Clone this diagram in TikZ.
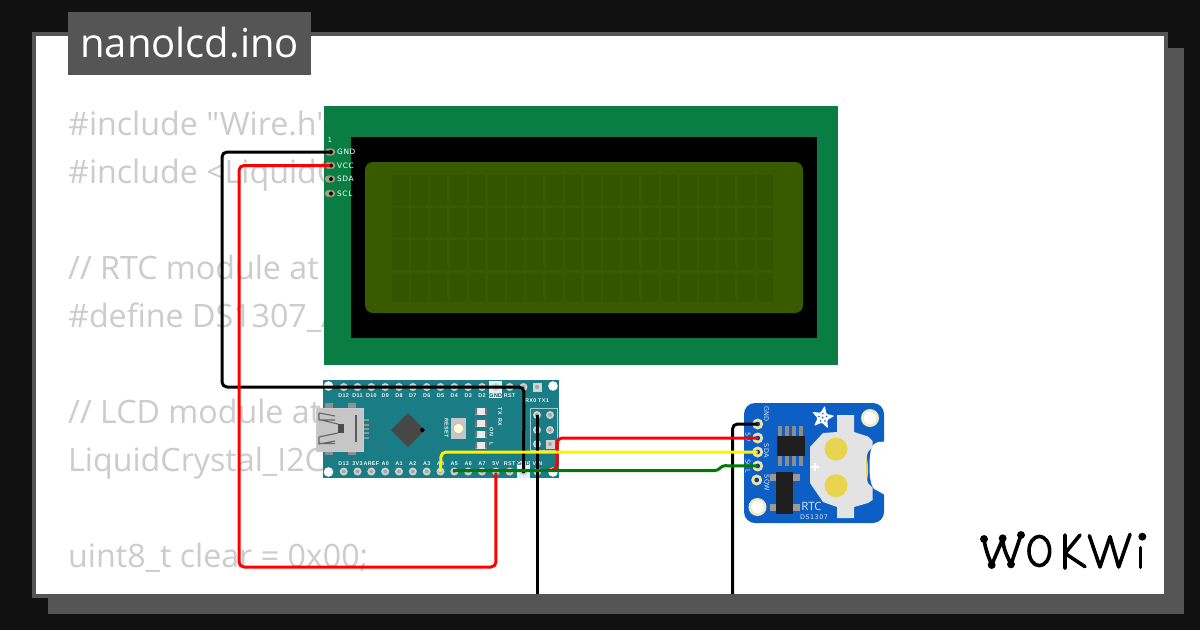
\documentclass[tikz,border=0pt]{standalone}
\usepackage{fontspec}
\usetikzlibrary{shapes.geometric}
\setmainfont{Open Sans}
\newfontfamily\codefont{Open Sans}
\newfontfamily\labelfont[LetterSpace=8]{DejaVu Sans}
\newfontfamily\pinfont[LetterSpace=6]{Liberation Sans Bold}
\definecolor{pagebg}{HTML}{111111}
\definecolor{framegray}{HTML}{555555}
\definecolor{codegray}{HTML}{CCCCCC}
\definecolor{lcdgreen}{HTML}{0A7D45}
\definecolor{lcdscreen}{HTML}{3A5A00}
\definecolor{lcdchar}{HTML}{355400}
\definecolor{padgold}{HTML}{A79F78}
\definecolor{nanoteal}{HTML}{1A7C85}
\definecolor{pinlight}{HTML}{D0D4D0}
\definecolor{pindark}{HTML}{A3A8A6}
\definecolor{usbgray}{HTML}{C6C6C6}
\definecolor{usbdark}{HTML}{8F9090}
\definecolor{rtcblue}{HTML}{0D5FC6}
\definecolor{ringcream}{HTML}{EFE8C4}
\definecolor{holder}{HTML}{E3E3E3}
\definecolor{padyellow}{HTML}{E8D44F}
\definecolor{wirered}{HTML}{FF0000}
\definecolor{wireyellow}{HTML}{FFF200}
\definecolor{wiregreen}{HTML}{007A00}
\tikzset{
  codeline/.style={anchor=base west,inner sep=0pt,text=codegray,font=\codefont\fontsize{32.2}{33}\selectfont},
  wire/.style={line width=3pt,rounded corners=5pt,line join=round},
  lcdlabel/.style={inner sep=0pt,anchor=west,text=white,font=\labelfont\fontsize{7.4}{7.5}\selectfont},
  nanolabel/.style={inner sep=0pt,text=white!92!nanoteal,font=\pinfont\fontsize{5.4}{5.5}\selectfont},
  rtclabel/.style={inner sep=0pt,rotate=-90,text=white!85!rtcblue,font=\labelfont\fontsize{6.5}{6.5}\selectfont},
  logo/.style={line width=3.6pt,line cap=round,line join=round,black},
  logonode/.style={line width=2.4pt,fill=white,black}
}
\begin{document}
\begin{tikzpicture}[x=1pt,y=-1pt]
\useasboundingbox (0,0) rectangle (1200,630);
% page and frame
\fill[pagebg] (0,0) rectangle (1200,630);
\fill[framegray] (48,48) rectangle (1184,614);
\fill[framegray] (32,32) rectangle (1168,598);
\fill[white] (36,36) rectangle (1164,594);
% code behind the parts
\node[codeline] (c1) at (68,135.5) {\#include "Wire.h"};
\node[codeline] (c2) at (68,183.5) {\#include <LiquidCrystal\_I2C.h>};
\node[codeline] (c3) at (68,279.5) {// RTC module at address 0x68};
\node[codeline] (c4) at (68,327.5) {\#define DS1307\_ADDRESS 0x68};
\node[codeline] (c5) at (68,423.5) {// LCD module at address 0x27};
\node[codeline] (c6) at (68,471.5) {LiquidCrystal\_I2C lcd(0x27,20,4);};
\node[codeline] (c7) at (68,567.5) {uint8\_t clear = 0x00;};
% title
\fill[framegray] (68,12) rectangle (311,75);
\node[inner sep=0pt,anchor=base west,text=white,font=\fontsize{40}{41}\selectfont] (title) at (80,57.5) {nanolcd.ino};
% LCD
\fill[lcdgreen] (324,106) rectangle (838,365);
\fill[black] (351,137) rectangle (817,338);
\fill[lcdscreen,rounded corners=8pt] (365,162) rectangle (803,313);
\foreach \c in {0,...,19}\foreach \r in {0,...,3}
  \fill[lcdchar] ({392+19.2*\c},{175+32.6*\r}) rectangle ++(16.6,29.5);
\node[inner sep=0pt,text=white,font=\labelfont\fontsize{6.5}{6.5}\selectfont] (lcdone) at (330,140) {1};
\foreach \n/\y/\t in {gnd/152/GND,vcc/165.5/VCC,sda/179/SDA,scl/193.5/SCL}{
  \fill[padgold] (328.5,\y) circle (3.6) (331.5,\y) circle (3.6) (328.5,{\y-3.6}) rectangle (331.5,{\y+3.6});
  \fill[black] (331,\y) circle (2);
  \coordinate (lcd\n) at (330,\y);
  \node[lcdlabel] (lcdlabel\n) at (337,\y) {\t};
}
% Nano
\fill[nanoteal] (323,380) rectangle (559,478);
\foreach \n/\x/\y in {a/328.5/386,b/553/386,c/328.5/472,d/553/472}
  \fill[white] (\x,\y) circle (4.8);
\fill[white!88!nanoteal] (489,381) rectangle (502,398);
\fill[white!88!nanoteal] (517,461) rectangle (530,478);
\foreach \i/\t in {0/D12,1/D11,2/D10,3/D9,4/D8,5/D7,6/D6,7/D5,8/D4,9/D3,10/D2,12/RST}{
  \node[nanolabel] (top\i) at ({343.7+13.83*\i},395.5) {\t};
}
\node[nanolabel,text=nanoteal!60!black] (top11) at (495.8,395.5) {GND};
\foreach \i/\t in {0/D13,1/3V3,2/AREF,3/A0,4/A1,5/A2,6/A3,7/A4,8/A5,9/A6,10/A7,11/5V,12/RST,14/VIN}{
  \node[nanolabel] (bot\i) at ({343.7+13.83*\i},464) {\t};
}
\node[nanolabel,text=nanoteal!60!black] (bot13) at (523.5,464) {GND};
\foreach \i in {0,...,13}{
  \fill[pinlight] ({343.7+13.83*\i},387) circle (4);
  \fill[pindark] ({343.7+13.83*\i},387) circle (2);
}
\foreach \i in {0,...,14}{
  \fill[pinlight] ({343.7+13.83*\i},471.5) circle (4);
  \fill[pindark] ({343.7+13.83*\i},471.5) circle (2);
}
\fill[pinlight] (532.5,382.5) rectangle (541.5,391.5);
\fill[pindark] (537,387) circle (2);
\node[nanolabel] (rxtx) at (537,400.5) {RX0 TX1};
\draw[white!60!nanoteal,line width=.6pt] (530,408.5) rectangle (557,450);
\foreach \n/\x/\y in {a/537/415,b/550/415,c/537/430,d/550/430,e/537/444}{
  \fill[pinlight] (\x,\y) circle (4);
  \fill[pindark] (\x,\y) circle (2);
}
\fill[pinlight] (545.5,439.5) rectangle (554.5,448.5);
\fill[pindark] (550,444) circle (2);
% USB
\fill[usbdark] (325,403) rectangle (333,455);
\fill[usbdark] (348,403) rectangle (356,455);
\foreach \y in {420,424.5,428.5,433,437.5} \fill[usbdark] (363,{\y-1}) rectangle (368.5,{\y+1});
\fill[usbgray,draw=white!80!black,line width=.5pt] (316,408) rectangle (363,451);
\draw[black!65,line width=1.1pt] (356,415) -- (356,442);
\draw[black!60,line width=1.1pt,line join=round] (319,413) -- (319,420) -- (335,420) (319,413) -- (335,416)
  (319,419.5) -- (338,424) (319,437) -- (338,433) (319,437) -- (319,444) -- (335,441) (319,443.5) -- (335,443.5);
\fill[black!70] (338,424) rectangle (344,433);
% MCU
\fill[black!72] (408,413) -- (425,430) -- (408,447) -- (391,430) -- cycle;
\fill[black] (422.3,430) circle (2.2);
% Reset and LEDs
\fill[usbgray] (451,418) rectangle (466,439);
\fill[white!85!yellow,draw=black!30,line width=.4pt] (458.5,428.5) circle (5.2);
\node[nanolabel,rotate=-90] (resetlabel) at (446.5,428) {RESET};
\foreach \y in {411,423,434,445}{
  \fill[white!92!black] (475,\y-3.5) rectangle (487,\y+3.5);
  \fill[black!55] (475,\y-3.5) rectangle (477,\y+3.5) (485,\y-3.5) rectangle (487,\y+3.5);
}
\node[nanolabel,rotate=-90] (txlabel) at (500,411) {TX};
\node[nanolabel,rotate=-90] (rxlabel) at (500,422) {RX};
\node[nanolabel,rotate=-90] (onlabel) at (491.5,432) {ON};
\node[nanolabel,rotate=-90] (llabel) at (491.5,444) {L};
\coordinate (nanognd) at (523.5,473);
\coordinate (nanofive) at (495.8,473);
\coordinate (nanoafour) at (440.5,472);
\coordinate (nanoafive) at (453,470.5);
\coordinate (nanoicsp) at (537,415);
\coordinate (nanoicspv) at (547,470);
% RTC
\fill[rtcblue,rounded corners=11pt] (744,403) -- (884,403) -- (884,523) -- (744,523) -- cycle;
\fill[padyellow] (862,445) .. controls (868,455) and (871,475) .. (864,490) -- (858,490) -- (858,445) -- cycle;
\fill[white] (885,441.5) -- (878,442) .. controls (872,443) and (869.5,450) .. (869.5,466)
  .. controls (869.5,482) and (872,490) .. (878,491) -- (885,495) -- cycle;
\fill[holder,line join=round] (837,415) -- (854,415) -- (854,432) -- (868,436.5) -- (872.5,441) -- (872.5,447)
  -- (868,452) .. controls (865,460) and (865,475) .. (868,483) -- (872.5,487.5) -- (872.5,500) -- (868,503) -- (854,507)
  -- (854,518) -- (837,518) -- (837,507) -- (823,502) -- (810,483) -- (810,447) -- (823,433) -- (837,432) -- cycle;
\fill[padyellow] (836,449) circle (11.5);
\fill[padyellow] (836,485.7) circle (11.5);
\draw[white,line width=1.6pt] (811,467) -- (819,467) (815,463) -- (815,471);
\node[star,star points=5,star point ratio=2.3,fill=white,rounded corners=1pt,inner sep=0pt,minimum size=24pt,rotate=-10] (rtcstar) at (822.7,417.5) {};
\fill[rtcblue] (822.7,417.5) circle (1) (822.7,413.5) circle (.8) (826.5,416.5) circle (.8) (825,421) circle (.8) (820.5,421) circle (.8) (819,416.5) circle (.8);
\foreach \x/\y in {870/418,757.5/507}{
  \fill[ringcream] (\x,\y) circle (9);
  \fill[white] (\x,\y) circle (6.2);
}
\foreach \n/\x/\y in {gnd/757.7/424,five/757.7/438,sda/757.7/452,scl/757.7/466,sqw/756.7/480}{
  \fill[ringcream!75!padyellow] (\x,\y) circle (5.5);
  \fill[rtcblue!75!black] (\x,\y) circle (2.4);
  \coordinate (rtc\n) at (\x,\y);
}
\node[rtclabel] (rtcl1) at (766.5,414) {GND};
\node[rtclabel] (rtcl2) at (748,437) {5V};
\node[rtclabel] (rtcl3) at (766.5,451) {SDA};
\node[rtclabel] (rtcl4) at (748,466) {SCL};
\node[rtclabel] (rtcl5) at (766.5,483) {SQW};
\foreach \x in {780,787,794,801} \fill[black!45] ({\x-2},426) rectangle ({\x+2},466);
\fill[black!88] (777,436) rectangle (805,456);
\fill[black!40] (770,473.5) rectangle (800,480.5);
\fill[black!40] (770,504) rectangle (800,511);
\fill[black!88] (776,472) rectangle (793,514);
\node[inner sep=0pt,text=white!85!rtcblue,font=\fontsize{11.5}{12}\selectfont] (rtctitle) at (811.5,506.5) {RTC};
\node[inner sep=0pt,text=white!85!rtcblue,font=\labelfont\fontsize{6.4}{7}\selectfont] (rtcmodel) at (814,517) {DS1307};
% free wire ends at the panel's lower edge
\coordinate (offa) at (537,594);
\coordinate (offb) at (732.5,594);
% wires
\draw[wire,black] (lcdgnd) -- (222,152) -- (222,387) -- (524,387) -- (nanognd);
\draw[wire,black] (nanoicsp) -- (offa);
\draw[wire,black] (rtcgnd) -- (732.5,424) -- (offb);
\draw[wire,wirered] (lcdvcc) -- (239,165.5) -- (239,567) -- (496,567) -- (nanofive);
\draw[wire,wirered] (rtcfive) -- (557,438) -- (557,470) -- (nanoicspv);
\draw[wire,wireyellow] (rtcsda) -- (441,452) -- (nanoafour);
\draw[wire,wiregreen,rounded corners=3pt] (rtcscl) -- (722,465.7) -- (718,470.5) -- (nanoafive);
% Wokwi logo
\begin{scope}[shift={(960,515)},scale=1/3]
\draw[logo] (72,72) .. controls (76,105) and (88,130) .. (95,150) -- (128,72) .. controls (130,105) and (145,130) .. (153,148) -- (183,60);
\draw[logonode] (72,72) circle (8) (128,70) circle (8) (183,60) circle (8) (95,150) circle (8) (153,148) circle (8);
\draw[logo] (238,108) ellipse (31 and 44);
\draw[logo] (315,60) -- (315,160) (315,115) -- (360,60) (315,115) -- (375,155);
\draw[logo] (388,62) -- (420,156) -- (450,65) -- (476,156) -- (510,58);
\draw[logo] (541,98) -- (541,157);
\draw[logonode] (547,65) circle (8);
\end{scope}
\end{tikzpicture}
\end{document}
